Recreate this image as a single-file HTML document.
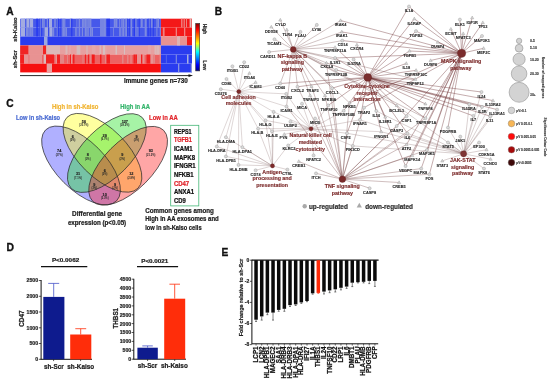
<!DOCTYPE html>
<html><head><meta charset="utf-8"><style>
html,body{margin:0;padding:0;background:#fff;width:550px;height:384px;overflow:hidden}
svg{display:block;font-family:"Liberation Sans",sans-serif;filter:blur(0.42px)}
</style></head><body>
<svg width="550" height="384" viewBox="0 0 550 384" font-family="Liberation Sans, sans-serif">
<rect width="550" height="384" fill="#fff"/>
<text x="6.3" y="14.6" font-size="10.2" font-weight="bold" fill="#111" stroke="#111" stroke-width="0.32">A</text>
<rect x="20.20" y="18.7" width="140.70" height="8.7" fill="#4658ea"/>
<rect x="20.20" y="27.4" width="140.70" height="9.0" fill="#4658ea"/>
<rect x="20.20" y="36.4" width="140.70" height="9.1" fill="#2a3cef"/>
<rect x="20.20" y="45.5" width="140.70" height="9.0" fill="#e6a0a0"/>
<rect x="20.20" y="54.5" width="140.70" height="9.1" fill="#ec6262"/>
<rect x="20.20" y="63.6" width="140.70" height="8.8" fill="#f60f0f"/>
<rect x="160.90" y="18.7" width="31.10" height="8.7" fill="#f41818"/>
<rect x="160.90" y="27.4" width="31.10" height="9.0" fill="#f41818"/>
<rect x="160.90" y="36.4" width="26.10" height="9.1" fill="#e89292"/>
<rect x="187.00" y="36.4" width="5.00" height="9.1" fill="#f41818"/>
<rect x="160.90" y="45.5" width="31.10" height="9.0" fill="#2a3cef"/>
<rect x="160.90" y="54.5" width="31.10" height="9.1" fill="#2a3cef"/>
<rect x="160.90" y="63.6" width="31.10" height="8.8" fill="#2a3cef"/>
<rect x="24.40" y="18.7" width="0.80" height="8.7" fill="#7d8ae0"/>
<rect x="26.00" y="18.7" width="1.00" height="8.7" fill="#7d8ae0"/>
<rect x="26.00" y="27.4" width="1.00" height="9.0" fill="#7d8ae0"/>
<rect x="27.00" y="27.4" width="1.60" height="9.0" fill="#7d8ae0"/>
<rect x="28.60" y="18.7" width="1.00" height="8.7" fill="#7d8ae0"/>
<rect x="28.60" y="27.4" width="1.00" height="9.0" fill="#7d8ae0"/>
<rect x="29.60" y="18.7" width="1.60" height="8.7" fill="#7d8ae0"/>
<rect x="29.60" y="27.4" width="1.60" height="9.0" fill="#7d8ae0"/>
<rect x="31.20" y="18.7" width="2.00" height="8.7" fill="#7d8ae0"/>
<rect x="31.20" y="27.4" width="2.00" height="9.0" fill="#7d8ae0"/>
<rect x="36.20" y="18.7" width="2.00" height="8.7" fill="#2a3cef"/>
<rect x="36.20" y="27.4" width="2.00" height="9.0" fill="#2a3cef"/>
<rect x="39.00" y="18.7" width="0.80" height="8.7" fill="#2a3cef"/>
<rect x="39.00" y="27.4" width="0.80" height="9.0" fill="#2a3cef"/>
<rect x="39.80" y="18.7" width="1.00" height="8.7" fill="#7d8ae0"/>
<rect x="39.80" y="27.4" width="1.00" height="9.0" fill="#7d8ae0"/>
<rect x="40.80" y="18.7" width="1.00" height="8.7" fill="#2a3cef"/>
<rect x="40.80" y="27.4" width="1.00" height="9.0" fill="#2a3cef"/>
<rect x="41.80" y="18.7" width="2.00" height="8.7" fill="#7d8ae0"/>
<rect x="43.80" y="18.7" width="1.00" height="8.7" fill="#7d8ae0"/>
<rect x="43.80" y="27.4" width="1.00" height="9.0" fill="#7d8ae0"/>
<rect x="46.80" y="18.7" width="1.30" height="8.7" fill="#7d8ae0"/>
<rect x="46.80" y="27.4" width="1.30" height="9.0" fill="#7d8ae0"/>
<rect x="48.10" y="18.7" width="0.80" height="8.7" fill="#2a3cef"/>
<rect x="48.10" y="27.4" width="0.80" height="9.0" fill="#2a3cef"/>
<rect x="48.90" y="18.7" width="2.00" height="8.7" fill="#7d8ae0"/>
<rect x="48.90" y="27.4" width="2.00" height="9.0" fill="#7d8ae0"/>
<rect x="50.90" y="27.4" width="2.00" height="9.0" fill="#7d8ae0"/>
<rect x="52.90" y="27.4" width="1.30" height="9.0" fill="#7d8ae0"/>
<rect x="54.20" y="18.7" width="1.60" height="8.7" fill="#7d8ae0"/>
<rect x="56.80" y="18.7" width="1.00" height="8.7" fill="#7d8ae0"/>
<rect x="56.80" y="27.4" width="1.00" height="9.0" fill="#7d8ae0"/>
<rect x="57.80" y="18.7" width="1.30" height="8.7" fill="#2a3cef"/>
<rect x="57.80" y="27.4" width="1.30" height="9.0" fill="#2a3cef"/>
<rect x="60.40" y="18.7" width="1.30" height="8.7" fill="#2a3cef"/>
<rect x="60.40" y="27.4" width="1.30" height="9.0" fill="#2a3cef"/>
<rect x="61.70" y="18.7" width="0.80" height="8.7" fill="#7d8ae0"/>
<rect x="61.70" y="27.4" width="0.80" height="9.0" fill="#7d8ae0"/>
<rect x="62.50" y="18.7" width="1.60" height="8.7" fill="#7d8ae0"/>
<rect x="62.50" y="27.4" width="1.60" height="9.0" fill="#7d8ae0"/>
<rect x="64.10" y="18.7" width="1.30" height="8.7" fill="#7d8ae0"/>
<rect x="64.10" y="27.4" width="1.30" height="9.0" fill="#7d8ae0"/>
<rect x="65.40" y="27.4" width="1.60" height="9.0" fill="#7d8ae0"/>
<rect x="69.80" y="18.7" width="1.30" height="8.7" fill="#7d8ae0"/>
<rect x="71.10" y="18.7" width="1.30" height="8.7" fill="#2a3cef"/>
<rect x="71.10" y="27.4" width="1.30" height="9.0" fill="#2a3cef"/>
<rect x="75.20" y="27.4" width="1.30" height="9.0" fill="#7d8ae0"/>
<rect x="76.50" y="18.7" width="0.80" height="8.7" fill="#7d8ae0"/>
<rect x="76.50" y="27.4" width="0.80" height="9.0" fill="#7d8ae0"/>
<rect x="78.60" y="18.7" width="1.60" height="8.7" fill="#7d8ae0"/>
<rect x="78.60" y="27.4" width="1.60" height="9.0" fill="#7d8ae0"/>
<rect x="81.80" y="18.7" width="1.30" height="8.7" fill="#7d8ae0"/>
<rect x="81.80" y="27.4" width="1.30" height="9.0" fill="#7d8ae0"/>
<rect x="83.10" y="18.7" width="1.60" height="8.7" fill="#7d8ae0"/>
<rect x="84.70" y="18.7" width="2.00" height="8.7" fill="#7d8ae0"/>
<rect x="84.70" y="27.4" width="2.00" height="9.0" fill="#7d8ae0"/>
<rect x="86.70" y="18.7" width="0.80" height="8.7" fill="#7d8ae0"/>
<rect x="86.70" y="27.4" width="0.80" height="9.0" fill="#7d8ae0"/>
<rect x="87.50" y="18.7" width="1.30" height="8.7" fill="#7d8ae0"/>
<rect x="87.50" y="27.4" width="1.30" height="9.0" fill="#7d8ae0"/>
<rect x="88.80" y="18.7" width="1.00" height="8.7" fill="#7d8ae0"/>
<rect x="89.80" y="18.7" width="1.60" height="8.7" fill="#7d8ae0"/>
<rect x="89.80" y="27.4" width="1.60" height="9.0" fill="#7d8ae0"/>
<rect x="91.40" y="27.4" width="1.60" height="9.0" fill="#7d8ae0"/>
<rect x="100.10" y="18.7" width="1.00" height="8.7" fill="#7d8ae0"/>
<rect x="100.10" y="27.4" width="1.00" height="9.0" fill="#7d8ae0"/>
<rect x="101.10" y="18.7" width="1.00" height="8.7" fill="#7d8ae0"/>
<rect x="101.10" y="27.4" width="1.00" height="9.0" fill="#7d8ae0"/>
<rect x="102.10" y="18.7" width="1.00" height="8.7" fill="#7d8ae0"/>
<rect x="102.10" y="27.4" width="1.00" height="9.0" fill="#7d8ae0"/>
<rect x="103.10" y="18.7" width="2.00" height="8.7" fill="#7d8ae0"/>
<rect x="103.10" y="27.4" width="2.00" height="9.0" fill="#7d8ae0"/>
<rect x="105.10" y="18.7" width="1.30" height="8.7" fill="#7d8ae0"/>
<rect x="105.10" y="27.4" width="1.30" height="9.0" fill="#7d8ae0"/>
<rect x="106.40" y="18.7" width="1.60" height="8.7" fill="#2a3cef"/>
<rect x="106.40" y="27.4" width="1.60" height="9.0" fill="#2a3cef"/>
<rect x="108.00" y="18.7" width="2.00" height="8.7" fill="#2a3cef"/>
<rect x="108.00" y="27.4" width="2.00" height="9.0" fill="#2a3cef"/>
<rect x="113.00" y="27.4" width="0.80" height="9.0" fill="#7d8ae0"/>
<rect x="113.80" y="18.7" width="2.00" height="8.7" fill="#7d8ae0"/>
<rect x="115.80" y="18.7" width="1.60" height="8.7" fill="#7d8ae0"/>
<rect x="119.00" y="18.7" width="0.80" height="8.7" fill="#7d8ae0"/>
<rect x="119.00" y="27.4" width="0.80" height="9.0" fill="#7d8ae0"/>
<rect x="119.80" y="27.4" width="1.00" height="9.0" fill="#7d8ae0"/>
<rect x="120.80" y="18.7" width="0.80" height="8.7" fill="#7d8ae0"/>
<rect x="121.60" y="18.7" width="0.80" height="8.7" fill="#7d8ae0"/>
<rect x="121.60" y="27.4" width="0.80" height="9.0" fill="#7d8ae0"/>
<rect x="122.40" y="18.7" width="2.00" height="8.7" fill="#7d8ae0"/>
<rect x="122.40" y="27.4" width="2.00" height="9.0" fill="#7d8ae0"/>
<rect x="125.20" y="18.7" width="2.00" height="8.7" fill="#7d8ae0"/>
<rect x="125.20" y="27.4" width="2.00" height="9.0" fill="#7d8ae0"/>
<rect x="127.20" y="18.7" width="1.00" height="8.7" fill="#2a3cef"/>
<rect x="127.20" y="27.4" width="1.00" height="9.0" fill="#2a3cef"/>
<rect x="129.20" y="18.7" width="1.30" height="8.7" fill="#2a3cef"/>
<rect x="129.20" y="27.4" width="1.30" height="9.0" fill="#2a3cef"/>
<rect x="130.50" y="18.7" width="1.60" height="8.7" fill="#7d8ae0"/>
<rect x="130.50" y="27.4" width="1.60" height="9.0" fill="#7d8ae0"/>
<rect x="133.70" y="18.7" width="1.60" height="8.7" fill="#2a3cef"/>
<rect x="133.70" y="27.4" width="1.60" height="9.0" fill="#2a3cef"/>
<rect x="135.30" y="18.7" width="1.30" height="8.7" fill="#7d8ae0"/>
<rect x="135.30" y="27.4" width="1.30" height="9.0" fill="#7d8ae0"/>
<rect x="137.40" y="27.4" width="1.30" height="9.0" fill="#7d8ae0"/>
<rect x="138.70" y="18.7" width="1.00" height="8.7" fill="#2a3cef"/>
<rect x="138.70" y="27.4" width="1.00" height="9.0" fill="#2a3cef"/>
<rect x="140.70" y="18.7" width="2.00" height="8.7" fill="#7d8ae0"/>
<rect x="144.70" y="18.7" width="2.00" height="8.7" fill="#7d8ae0"/>
<rect x="144.70" y="27.4" width="2.00" height="9.0" fill="#7d8ae0"/>
<rect x="147.50" y="18.7" width="1.30" height="8.7" fill="#2a3cef"/>
<rect x="147.50" y="27.4" width="1.30" height="9.0" fill="#2a3cef"/>
<rect x="148.80" y="18.7" width="1.00" height="8.7" fill="#7d8ae0"/>
<rect x="149.80" y="18.7" width="1.00" height="8.7" fill="#2a3cef"/>
<rect x="149.80" y="27.4" width="1.00" height="9.0" fill="#2a3cef"/>
<rect x="150.80" y="18.7" width="2.00" height="8.7" fill="#7d8ae0"/>
<rect x="152.80" y="18.7" width="1.00" height="8.7" fill="#2a3cef"/>
<rect x="152.80" y="27.4" width="1.00" height="9.0" fill="#2a3cef"/>
<rect x="156.40" y="18.7" width="1.00" height="8.7" fill="#7d8ae0"/>
<rect x="156.40" y="27.4" width="1.00" height="9.0" fill="#7d8ae0"/>
<rect x="157.40" y="18.7" width="1.60" height="8.7" fill="#7d8ae0"/>
<rect x="159.80" y="27.4" width="1.10" height="9.0" fill="#7d8ae0"/>
<rect x="21.00" y="18.7" width="4.00" height="8.7" fill="#a3abe0"/>
<rect x="27.00" y="18.7" width="2.00" height="8.7" fill="#a3abe0"/>
<rect x="30.00" y="18.7" width="3.00" height="8.7" fill="#a3abe0"/>
<rect x="49.00" y="18.7" width="3.00" height="8.7" fill="#a3abe0"/>
<rect x="21.00" y="27.4" width="4.00" height="9.0" fill="#a3abe0"/>
<rect x="45.00" y="27.4" width="3.00" height="9.0" fill="#a3abe0"/>
<rect x="50.00" y="27.4" width="2.00" height="9.0" fill="#a3abe0"/>
<rect x="44.00" y="36.4" width="3.50" height="9.1" fill="#9ca8e0"/>
<rect x="20.20" y="45.5" width="8.40" height="9.0" fill="#f02424"/>
<rect x="28.60" y="45.5" width="14.40" height="9.0" fill="#e89292"/>
<rect x="43.00" y="45.5" width="3.00" height="9.0" fill="#f02424"/>
<rect x="46.70" y="45.5" width="13.30" height="9.0" fill="#dcb8b8"/>
<rect x="65.50" y="45.5" width="2.00" height="9.0" fill="#dcb8b8"/>
<rect x="69.00" y="45.5" width="2.00" height="9.0" fill="#e4a8a8"/>
<rect x="79.00" y="45.5" width="2.00" height="9.0" fill="#e4a8a8"/>
<rect x="86.50" y="45.5" width="1.00" height="9.0" fill="#d6c0c0"/>
<rect x="92.00" y="45.5" width="2.00" height="9.0" fill="#e4a8a8"/>
<rect x="94.00" y="45.5" width="1.50" height="9.0" fill="#e4a8a8"/>
<rect x="99.50" y="45.5" width="1.50" height="9.0" fill="#dcb8b8"/>
<rect x="103.00" y="45.5" width="2.00" height="9.0" fill="#d6c0c0"/>
<rect x="105.00" y="45.5" width="1.50" height="9.0" fill="#e4a8a8"/>
<rect x="115.50" y="45.5" width="1.50" height="9.0" fill="#d6c0c0"/>
<rect x="124.00" y="45.5" width="1.00" height="9.0" fill="#d6c0c0"/>
<rect x="148.00" y="45.5" width="3.00" height="9.0" fill="#e4a8a8"/>
<rect x="154.50" y="45.5" width="2.00" height="9.0" fill="#dcb8b8"/>
<rect x="156.50" y="45.5" width="3.00" height="9.0" fill="#dcb8b8"/>
<rect x="76.60" y="45.5" width="3.40" height="9.0" fill="#d4bcbc"/>
<rect x="20.20" y="54.5" width="3.80" height="9.1" fill="#f22020"/>
<rect x="24.00" y="54.5" width="4.60" height="9.1" fill="#e89292"/>
<rect x="29.30" y="54.5" width="12.70" height="9.1" fill="#e89292"/>
<rect x="43.70" y="54.5" width="2.30" height="9.1" fill="#dcb8b8"/>
<rect x="46.00" y="54.5" width="8.00" height="9.1" fill="#f22020"/>
<rect x="55.50" y="54.5" width="1.50" height="9.1" fill="#e89292"/>
<rect x="57.00" y="54.5" width="3.00" height="9.1" fill="#f22020"/>
<rect x="60.00" y="54.5" width="2.00" height="9.1" fill="#e48484"/>
<rect x="62.00" y="54.5" width="2.00" height="9.1" fill="#e48484"/>
<rect x="67.00" y="54.5" width="1.00" height="9.1" fill="#e48484"/>
<rect x="70.00" y="54.5" width="1.00" height="9.1" fill="#f22020"/>
<rect x="71.00" y="54.5" width="1.00" height="9.1" fill="#e89292"/>
<rect x="73.00" y="54.5" width="1.50" height="9.1" fill="#f22020"/>
<rect x="82.50" y="54.5" width="1.00" height="9.1" fill="#e48484"/>
<rect x="85.00" y="54.5" width="1.00" height="9.1" fill="#f22020"/>
<rect x="88.00" y="54.5" width="1.50" height="9.1" fill="#f22020"/>
<rect x="89.50" y="54.5" width="3.00" height="9.1" fill="#e48484"/>
<rect x="100.00" y="54.5" width="1.50" height="9.1" fill="#f22020"/>
<rect x="105.00" y="54.5" width="1.50" height="9.1" fill="#e48484"/>
<rect x="106.50" y="54.5" width="1.50" height="9.1" fill="#f22020"/>
<rect x="108.00" y="54.5" width="2.00" height="9.1" fill="#f22020"/>
<rect x="122.00" y="54.5" width="1.50" height="9.1" fill="#e48484"/>
<rect x="127.00" y="54.5" width="1.50" height="9.1" fill="#e48484"/>
<rect x="130.50" y="54.5" width="1.00" height="9.1" fill="#e89292"/>
<rect x="133.50" y="54.5" width="2.00" height="9.1" fill="#f22020"/>
<rect x="135.50" y="54.5" width="1.50" height="9.1" fill="#f22020"/>
<rect x="137.00" y="54.5" width="2.00" height="9.1" fill="#e89292"/>
<rect x="139.00" y="54.5" width="2.00" height="9.1" fill="#e89292"/>
<rect x="141.00" y="54.5" width="1.50" height="9.1" fill="#f22020"/>
<rect x="142.50" y="54.5" width="2.00" height="9.1" fill="#e89292"/>
<rect x="146.50" y="54.5" width="1.50" height="9.1" fill="#f22020"/>
<rect x="148.00" y="54.5" width="1.00" height="9.1" fill="#f22020"/>
<rect x="149.00" y="54.5" width="1.50" height="9.1" fill="#f22020"/>
<rect x="150.50" y="54.5" width="3.00" height="9.1" fill="#e89292"/>
<rect x="153.50" y="54.5" width="1.50" height="9.1" fill="#e48484"/>
<rect x="159.50" y="54.5" width="1.40" height="9.1" fill="#e48484"/>
<rect x="91.70" y="54.5" width="3.00" height="9.1" fill="#f41a1a"/>
<rect x="46.70" y="63.6" width="5.30" height="8.8" fill="#e8a0a0"/>
<rect x="181.00" y="18.7" width="1.50" height="8.7" fill="#ee7a7a"/>
<rect x="183.50" y="18.7" width="1.50" height="8.7" fill="#ec7070"/>
<rect x="186.00" y="18.7" width="1.00" height="8.7" fill="#ee8080"/>
<rect x="189.60" y="18.7" width="1.90" height="8.7" fill="#e0b8b8"/>
<rect x="162.80" y="27.4" width="1.80" height="9.0" fill="#f08080"/>
<rect x="175.70" y="27.4" width="1.30" height="9.0" fill="#f08080"/>
<rect x="184.00" y="27.4" width="1.30" height="9.0" fill="#f08080"/>
<rect x="177.00" y="36.4" width="3.00" height="9.1" fill="#dcb4b4"/>
<rect x="165.90" y="54.5" width="0.70" height="9.1" fill="#6676e4"/>
<rect x="175.70" y="54.5" width="1.30" height="9.1" fill="#7482e2"/>
<rect x="187.00" y="54.5" width="1.50" height="9.1" fill="#a8b0e0"/>
<rect x="178.00" y="63.6" width="1.30" height="8.8" fill="#8a96e0"/>
<rect x="190.80" y="63.6" width="1.20" height="8.8" fill="#8a96e0"/>
<text transform="translate(17.4,29.6) rotate(-90)" font-size="5.8" font-weight="bold" fill="#222" text-anchor="middle" stroke="#222" stroke-width="0.20">sh-Kaiso</text>
<text transform="translate(17.4,59.2) rotate(-90)" font-size="5.8" font-weight="bold" fill="#222" text-anchor="middle" stroke="#222" stroke-width="0.20">sh-Scr</text>
<line x1="20" y1="75.6" x2="190" y2="75.6" stroke="#111" stroke-width="0.9"/>
<path d="M188.5,74.3 L193,75.6 L188.5,76.9 Z" fill="#111"/>
<text x="187.8" y="83.3" font-size="6.3" font-weight="bold" fill="#222" text-anchor="end" stroke="#222" stroke-width="0.22">Immune genes n=730</text>
<defs><linearGradient id="jet" x1="0" y1="0" x2="0" y2="1"><stop offset="0" stop-color="#800000"/><stop offset="0.13" stop-color="#ff0000"/><stop offset="0.42" stop-color="#ffff00"/><stop offset="0.6" stop-color="#00ffff"/><stop offset="0.87" stop-color="#0000ff"/><stop offset="1" stop-color="#000080"/></linearGradient></defs>
<rect x="195.7" y="23.4" width="4.0" height="47.5" fill="url(#jet)" stroke="#333" stroke-width="0.6"/>
<text transform="translate(202.5,29.0) rotate(90)" font-size="4.6" font-weight="bold" fill="#222" text-anchor="middle" stroke="#222" stroke-width="0.16">High</text>
<text transform="translate(202.5,65.4) rotate(90)" font-size="4.8" font-weight="bold" fill="#222" text-anchor="middle" stroke="#222" stroke-width="0.17">Low</text>
<text x="214.8" y="14.6" font-size="10.2" font-weight="bold" fill="#111" stroke="#111" stroke-width="0.32">B</text>
<g stroke="#66282a" stroke-width="0.55" stroke-opacity="0.7" fill="none">
<line x1="335.1" y1="47.4" x2="367.8" y2="77.4"/>
<line x1="356.9" y1="44.9" x2="367.8" y2="77.4"/>
<line x1="335.1" y1="58.0" x2="367.8" y2="77.4"/>
<line x1="326.4" y1="62.9" x2="367.8" y2="77.4"/>
<line x1="353.6" y1="59.4" x2="367.8" y2="77.4"/>
<line x1="336.2" y1="70.0" x2="367.8" y2="77.4"/>
<line x1="409.0" y1="6.5" x2="367.8" y2="77.4"/>
<line x1="414.3" y1="18.8" x2="367.8" y2="77.4"/>
<line x1="416.0" y1="31.1" x2="367.8" y2="77.4"/>
<line x1="409.5" y1="51.0" x2="367.8" y2="77.4"/>
<line x1="406.3" y1="63.4" x2="367.8" y2="77.4"/>
<line x1="416.1" y1="70.3" x2="367.8" y2="77.4"/>
<line x1="415.3" y1="79.3" x2="367.8" y2="77.4"/>
<line x1="481.5" y1="92.0" x2="367.8" y2="77.4"/>
<line x1="280.2" y1="83.5" x2="367.8" y2="77.4"/>
<line x1="297.5" y1="86.8" x2="367.8" y2="77.4"/>
<line x1="332.2" y1="88.2" x2="367.8" y2="77.4"/>
<line x1="328.2" y1="105.4" x2="367.8" y2="77.4"/>
<line x1="343.7" y1="110.8" x2="367.8" y2="77.4"/>
<line x1="376.3" y1="111.0" x2="367.8" y2="77.4"/>
<line x1="385.3" y1="117.0" x2="367.8" y2="77.4"/>
<line x1="360.0" y1="119.8" x2="367.8" y2="77.4"/>
<line x1="347.0" y1="133.3" x2="367.8" y2="77.4"/>
<line x1="406.6" y1="116.2" x2="367.8" y2="77.4"/>
<line x1="425.4" y1="103.9" x2="367.8" y2="77.4"/>
<line x1="425.4" y1="118.2" x2="367.8" y2="77.4"/>
<line x1="407.4" y1="133.4" x2="367.8" y2="77.4"/>
<line x1="381.2" y1="131.7" x2="367.8" y2="77.4"/>
<line x1="405.6" y1="166.1" x2="367.8" y2="77.4"/>
<line x1="469.3" y1="104.4" x2="367.8" y2="77.4"/>
<line x1="493.0" y1="100.6" x2="367.8" y2="77.4"/>
<line x1="482.0" y1="106.9" x2="367.8" y2="77.4"/>
<line x1="497.1" y1="109.6" x2="367.8" y2="77.4"/>
<line x1="473.4" y1="115.9" x2="367.8" y2="77.4"/>
<line x1="490.2" y1="116.2" x2="367.8" y2="77.4"/>
</g>
<g stroke="#66282a" stroke-width="0.55" stroke-opacity="0.7" fill="none">
<line x1="340.6" y1="20.5" x2="461.6" y2="53.3"/>
<line x1="341.8" y1="31.9" x2="461.6" y2="53.3"/>
<line x1="342.3" y1="40.6" x2="461.6" y2="53.3"/>
<line x1="335.1" y1="58.0" x2="461.6" y2="53.3"/>
<line x1="409.0" y1="6.5" x2="461.6" y2="53.3"/>
<line x1="414.3" y1="18.8" x2="461.6" y2="53.3"/>
<line x1="416.0" y1="31.1" x2="461.6" y2="53.3"/>
<line x1="409.5" y1="51.0" x2="461.6" y2="53.3"/>
<line x1="459.9" y1="19.6" x2="461.6" y2="53.3"/>
<line x1="472.2" y1="17.7" x2="461.6" y2="53.3"/>
<line x1="482.8" y1="22.6" x2="461.6" y2="53.3"/>
<line x1="450.9" y1="29.1" x2="461.6" y2="53.3"/>
<line x1="463.2" y1="33.6" x2="461.6" y2="53.3"/>
<line x1="482.0" y1="36.0" x2="461.6" y2="53.3"/>
<line x1="437.8" y1="42.2" x2="461.6" y2="53.3"/>
<line x1="483.6" y1="48.3" x2="461.6" y2="53.3"/>
<line x1="430.6" y1="60.5" x2="461.6" y2="53.3"/>
<line x1="349.5" y1="102.9" x2="461.6" y2="53.3"/>
<line x1="364.0" y1="107.7" x2="461.6" y2="53.3"/>
<line x1="425.4" y1="118.2" x2="461.6" y2="53.3"/>
<line x1="396.7" y1="126.0" x2="461.6" y2="53.3"/>
<line x1="406.5" y1="144.5" x2="461.6" y2="53.3"/>
<line x1="426.9" y1="150.0" x2="461.6" y2="53.3"/>
<line x1="412.2" y1="155.5" x2="461.6" y2="53.3"/>
<line x1="405.6" y1="166.1" x2="461.6" y2="53.3"/>
<line x1="421.2" y1="168.6" x2="461.6" y2="53.3"/>
<line x1="429.4" y1="174.3" x2="461.6" y2="53.3"/>
<line x1="448.0" y1="127.6" x2="461.6" y2="53.3"/>
</g>
<g stroke="#6a3434" stroke-width="0.5" stroke-opacity="0.64" fill="none">
<line x1="326.4" y1="62.9" x2="342.4" y2="179.2"/>
<line x1="297.5" y1="86.8" x2="342.4" y2="179.2"/>
<line x1="311.5" y1="86.3" x2="342.4" y2="179.2"/>
<line x1="332.2" y1="88.2" x2="342.4" y2="179.2"/>
<line x1="310.2" y1="95.5" x2="342.4" y2="179.2"/>
<line x1="325.0" y1="95.5" x2="342.4" y2="179.2"/>
<line x1="286.5" y1="106.6" x2="342.4" y2="179.2"/>
<line x1="349.5" y1="102.9" x2="342.4" y2="179.2"/>
<line x1="364.0" y1="107.7" x2="342.4" y2="179.2"/>
<line x1="347.0" y1="133.3" x2="342.4" y2="179.2"/>
<line x1="352.8" y1="145.9" x2="342.4" y2="179.2"/>
<line x1="298.8" y1="161.4" x2="342.4" y2="179.2"/>
<line x1="316.0" y1="173.4" x2="342.4" y2="179.2"/>
<line x1="406.6" y1="116.2" x2="342.4" y2="179.2"/>
<line x1="425.4" y1="118.2" x2="342.4" y2="179.2"/>
<line x1="396.7" y1="126.0" x2="342.4" y2="179.2"/>
<line x1="407.4" y1="133.4" x2="342.4" y2="179.2"/>
<line x1="406.5" y1="144.5" x2="342.4" y2="179.2"/>
<line x1="426.9" y1="150.0" x2="342.4" y2="179.2"/>
<line x1="412.2" y1="155.5" x2="342.4" y2="179.2"/>
<line x1="421.2" y1="168.6" x2="342.4" y2="179.2"/>
<line x1="429.4" y1="174.3" x2="342.4" y2="179.2"/>
<line x1="399.1" y1="182.5" x2="342.4" y2="179.2"/>
<line x1="369.6" y1="188.2" x2="342.4" y2="179.2"/>
</g>
<g stroke="#6c3c3c" stroke-width="0.5" stroke-opacity="0.62" fill="none">
<line x1="280.3" y1="20.0" x2="293.2" y2="49.4"/>
<line x1="271.3" y1="27.0" x2="293.2" y2="49.4"/>
<line x1="286.8" y1="29.8" x2="293.2" y2="49.4"/>
<line x1="300.4" y1="31.9" x2="293.2" y2="49.4"/>
<line x1="316.8" y1="24.9" x2="293.2" y2="49.4"/>
<line x1="274.5" y1="39.3" x2="293.2" y2="49.4"/>
<line x1="269.1" y1="52.0" x2="293.2" y2="49.4"/>
<line x1="340.6" y1="20.5" x2="293.2" y2="49.4"/>
<line x1="341.8" y1="31.9" x2="293.2" y2="49.4"/>
<line x1="342.3" y1="40.6" x2="293.2" y2="49.4"/>
<line x1="335.1" y1="47.4" x2="293.2" y2="49.4"/>
<line x1="335.1" y1="58.0" x2="293.2" y2="49.4"/>
<line x1="326.4" y1="62.9" x2="293.2" y2="49.4"/>
<line x1="336.2" y1="70.0" x2="293.2" y2="49.4"/>
<line x1="415.3" y1="79.3" x2="293.2" y2="49.4"/>
<line x1="280.2" y1="83.5" x2="293.2" y2="49.4"/>
<line x1="297.5" y1="86.8" x2="293.2" y2="49.4"/>
<line x1="311.5" y1="86.3" x2="293.2" y2="49.4"/>
<line x1="332.2" y1="88.2" x2="293.2" y2="49.4"/>
<line x1="310.2" y1="95.5" x2="293.2" y2="49.4"/>
<line x1="325.0" y1="95.5" x2="293.2" y2="49.4"/>
<line x1="286.5" y1="106.6" x2="293.2" y2="49.4"/>
<line x1="349.5" y1="102.9" x2="293.2" y2="49.4"/>
<line x1="396.7" y1="105.5" x2="293.2" y2="49.4"/>
<line x1="425.4" y1="118.2" x2="293.2" y2="49.4"/>
</g>
<g stroke="#765454" stroke-width="0.47" stroke-opacity="0.58" fill="none">
<line x1="481.5" y1="92.0" x2="463.6" y2="153.8"/>
<line x1="376.3" y1="111.0" x2="463.6" y2="153.8"/>
<line x1="360.0" y1="119.8" x2="463.6" y2="153.8"/>
<line x1="347.0" y1="133.3" x2="463.6" y2="153.8"/>
<line x1="352.8" y1="145.9" x2="463.6" y2="153.8"/>
<line x1="396.7" y1="105.5" x2="463.6" y2="153.8"/>
<line x1="407.4" y1="133.4" x2="463.6" y2="153.8"/>
<line x1="381.2" y1="131.7" x2="463.6" y2="153.8"/>
<line x1="469.3" y1="104.4" x2="463.6" y2="153.8"/>
<line x1="493.0" y1="100.6" x2="463.6" y2="153.8"/>
<line x1="482.0" y1="106.9" x2="463.6" y2="153.8"/>
<line x1="497.1" y1="109.6" x2="463.6" y2="153.8"/>
<line x1="473.4" y1="115.9" x2="463.6" y2="153.8"/>
<line x1="490.2" y1="116.2" x2="463.6" y2="153.8"/>
<line x1="448.0" y1="127.6" x2="463.6" y2="153.8"/>
<line x1="460.3" y1="136.6" x2="463.6" y2="153.8"/>
<line x1="448.0" y1="142.5" x2="463.6" y2="153.8"/>
<line x1="479.1" y1="142.5" x2="463.6" y2="153.8"/>
<line x1="486.5" y1="149.7" x2="463.6" y2="153.8"/>
<line x1="490.6" y1="159.2" x2="463.6" y2="153.8"/>
<line x1="442.3" y1="160.9" x2="463.6" y2="153.8"/>
<line x1="484.0" y1="168.6" x2="463.6" y2="153.8"/>
</g>
<g stroke="#765454" stroke-width="0.45" stroke-opacity="0.56" fill="none">
<line x1="286.3" y1="93.9" x2="311.0" y2="128.8"/>
<line x1="302.0" y1="103.7" x2="311.0" y2="128.8"/>
<line x1="286.5" y1="106.6" x2="311.0" y2="128.8"/>
<line x1="328.2" y1="105.4" x2="311.0" y2="128.8"/>
<line x1="343.7" y1="110.8" x2="311.0" y2="128.8"/>
<line x1="360.0" y1="119.8" x2="311.0" y2="128.8"/>
<line x1="290.5" y1="121.7" x2="311.0" y2="128.8"/>
<line x1="315.1" y1="118.5" x2="311.0" y2="128.8"/>
<line x1="273.6" y1="111.9" x2="311.0" y2="128.8"/>
<line x1="265.5" y1="120.4" x2="311.0" y2="128.8"/>
<line x1="258.1" y1="128.6" x2="311.0" y2="128.8"/>
<line x1="272.0" y1="131.3" x2="311.0" y2="128.8"/>
<line x1="284.3" y1="134.3" x2="311.0" y2="128.8"/>
<line x1="288.2" y1="145.5" x2="311.0" y2="128.8"/>
<line x1="347.0" y1="133.3" x2="311.0" y2="128.8"/>
<line x1="352.8" y1="145.9" x2="311.0" y2="128.8"/>
<line x1="313.6" y1="155.4" x2="311.0" y2="128.8"/>
<line x1="381.2" y1="131.7" x2="311.0" y2="128.8"/>
</g>
<g stroke="#765454" stroke-width="0.45" stroke-opacity="0.56" fill="none">
<line x1="273.6" y1="111.9" x2="272.5" y2="165.9"/>
<line x1="265.5" y1="120.4" x2="272.5" y2="165.9"/>
<line x1="258.1" y1="128.6" x2="272.5" y2="165.9"/>
<line x1="272.0" y1="131.3" x2="272.5" y2="165.9"/>
<line x1="225.9" y1="137.2" x2="272.5" y2="165.9"/>
<line x1="216.8" y1="146.5" x2="272.5" y2="165.9"/>
<line x1="242.4" y1="147.2" x2="272.5" y2="165.9"/>
<line x1="225.9" y1="156.4" x2="272.5" y2="165.9"/>
<line x1="238.5" y1="164.9" x2="272.5" y2="165.9"/>
<line x1="255.6" y1="170.3" x2="272.5" y2="165.9"/>
<line x1="287.4" y1="169.6" x2="272.5" y2="165.9"/>
<line x1="288.2" y1="145.5" x2="272.5" y2="165.9"/>
</g>
<g stroke="#7a5c5c" stroke-width="0.45" stroke-opacity="0.55" fill="none">
<line x1="244.2" y1="62.2" x2="238.8" y2="91.6"/>
<line x1="232.4" y1="66.3" x2="238.8" y2="91.6"/>
<line x1="249.4" y1="73.2" x2="238.8" y2="91.6"/>
<line x1="226.5" y1="79.0" x2="238.8" y2="91.6"/>
<line x1="255.6" y1="82.3" x2="238.8" y2="91.6"/>
<line x1="220.8" y1="89.2" x2="238.8" y2="91.6"/>
<line x1="280.2" y1="83.5" x2="238.8" y2="91.6"/>
<line x1="286.3" y1="93.9" x2="238.8" y2="91.6"/>
<line x1="286.5" y1="106.6" x2="238.8" y2="91.6"/>
<line x1="273.6" y1="111.9" x2="238.8" y2="91.6"/>
<line x1="265.5" y1="120.4" x2="238.8" y2="91.6"/>
<line x1="258.1" y1="128.6" x2="238.8" y2="91.6"/>
<line x1="272.0" y1="131.3" x2="238.8" y2="91.6"/>
<line x1="225.9" y1="137.2" x2="238.8" y2="91.6"/>
<line x1="216.8" y1="146.5" x2="238.8" y2="91.6"/>
<line x1="242.4" y1="147.2" x2="238.8" y2="91.6"/>
<line x1="225.9" y1="156.4" x2="238.8" y2="91.6"/>
<line x1="238.5" y1="164.9" x2="238.8" y2="91.6"/>
</g>
<g fill="#d9d9d9" stroke="#8a8a8a" stroke-width="0.35">
<path d="M280.3,18.3 L281.9,21.1 L278.7,21.1 Z"/>
<path d="M271.3,25.3 L272.9,28.1 L269.7,28.1 Z"/>
<path d="M286.8,28.1 L288.4,30.9 L285.2,30.9 Z"/>
<circle cx="300.4" cy="31.9" r="1.55"/>
<circle cx="316.8" cy="24.9" r="1.55"/>
<circle cx="274.5" cy="39.3" r="1.55"/>
<circle cx="269.1" cy="52.0" r="1.55"/>
<path d="M340.6,18.8 L342.2,21.6 L339.0,21.6 Z"/>
<path d="M341.8,30.2 L343.4,33.0 L340.2,33.0 Z"/>
<circle cx="342.3" cy="40.6" r="1.55"/>
<path d="M335.1,45.7 L336.7,48.5 L333.5,48.5 Z"/>
<path d="M356.9,43.2 L358.5,46.0 L355.3,46.0 Z"/>
<circle cx="335.1" cy="58.0" r="1.55"/>
<path d="M326.4,61.2 L328.0,64.0 L324.8,64.0 Z"/>
<circle cx="353.6" cy="59.4" r="1.55"/>
<circle cx="336.2" cy="70.0" r="1.55"/>
<circle cx="409.0" cy="6.5" r="1.55"/>
<path d="M414.3,17.1 L415.9,19.9 L412.7,19.9 Z"/>
<circle cx="416.0" cy="31.1" r="1.55"/>
<path d="M409.5,49.3 L411.1,52.1 L407.9,52.1 Z"/>
<circle cx="459.9" cy="19.6" r="1.55"/>
<path d="M472.2,16.0 L473.8,18.8 L470.6,18.8 Z"/>
<path d="M482.8,20.9 L484.4,23.7 L481.2,23.7 Z"/>
<path d="M450.9,27.4 L452.5,30.2 L449.3,30.2 Z"/>
<path d="M463.2,31.9 L464.8,34.7 L461.6,34.7 Z"/>
<circle cx="482.0" cy="36.0" r="1.55"/>
<path d="M437.8,40.5 L439.4,43.3 L436.2,43.3 Z"/>
<path d="M483.6,46.6 L485.2,49.4 L482.0,49.4 Z"/>
<path d="M430.6,58.8 L432.2,61.6 L429.0,61.6 Z"/>
<path d="M406.3,61.7 L407.9,64.5 L404.7,64.5 Z"/>
<path d="M416.1,68.6 L417.7,71.4 L414.5,71.4 Z"/>
<path d="M415.3,77.6 L416.9,80.4 L413.7,80.4 Z"/>
<circle cx="481.5" cy="92.0" r="1.55"/>
<circle cx="244.2" cy="62.2" r="1.55"/>
<circle cx="232.4" cy="66.3" r="1.55"/>
<path d="M249.4,71.5 L251.0,74.3 L247.8,74.3 Z"/>
<circle cx="226.5" cy="79.0" r="1.55"/>
<path d="M255.6,80.6 L257.2,83.4 L254.0,83.4 Z"/>
<circle cx="220.8" cy="89.2" r="1.55"/>
<circle cx="280.2" cy="83.5" r="1.55"/>
<circle cx="286.3" cy="93.9" r="1.55"/>
<circle cx="297.5" cy="86.8" r="1.55"/>
<path d="M311.5,84.6 L313.1,87.4 L309.9,87.4 Z"/>
<circle cx="332.2" cy="88.2" r="1.55"/>
<path d="M310.2,93.8 L311.8,96.6 L308.6,96.6 Z"/>
<path d="M325.0,93.8 L326.6,96.6 L323.4,96.6 Z"/>
<circle cx="302.0" cy="103.7" r="1.55"/>
<circle cx="286.5" cy="106.6" r="1.55"/>
<circle cx="328.2" cy="105.4" r="1.55"/>
<path d="M349.5,101.2 L351.1,104.0 L347.9,104.0 Z"/>
<circle cx="343.7" cy="110.8" r="1.55"/>
<circle cx="364.0" cy="107.7" r="1.55"/>
<circle cx="376.3" cy="111.0" r="1.55"/>
<path d="M385.3,115.3 L386.9,118.1 L383.7,118.1 Z"/>
<circle cx="360.0" cy="119.8" r="1.55"/>
<circle cx="290.5" cy="121.7" r="1.55"/>
<circle cx="315.1" cy="118.5" r="1.55"/>
<circle cx="273.6" cy="111.9" r="1.55"/>
<circle cx="265.5" cy="120.4" r="1.55"/>
<circle cx="258.1" cy="128.6" r="1.55"/>
<circle cx="272.0" cy="131.3" r="1.55"/>
<path d="M284.3,132.6 L285.9,135.4 L282.7,135.4 Z"/>
<circle cx="225.9" cy="137.2" r="1.55"/>
<circle cx="216.8" cy="146.5" r="1.55"/>
<circle cx="242.4" cy="147.2" r="1.55"/>
<circle cx="225.9" cy="156.4" r="1.55"/>
<circle cx="238.5" cy="164.9" r="1.55"/>
<circle cx="255.6" cy="170.3" r="1.55"/>
<circle cx="287.4" cy="169.6" r="1.55"/>
<circle cx="288.2" cy="145.5" r="1.55"/>
<circle cx="347.0" cy="133.3" r="1.55"/>
<circle cx="352.8" cy="145.9" r="1.55"/>
<circle cx="313.6" cy="155.4" r="1.55"/>
<path d="M298.8,159.7 L300.4,162.5 L297.2,162.5 Z"/>
<circle cx="316.0" cy="173.4" r="1.55"/>
<path d="M396.7,103.8 L398.3,106.6 L395.1,106.6 Z"/>
<circle cx="406.6" cy="116.2" r="1.55"/>
<path d="M425.4,102.2 L427.0,105.0 L423.8,105.0 Z"/>
<circle cx="425.4" cy="118.2" r="1.55"/>
<circle cx="396.7" cy="126.0" r="1.55"/>
<circle cx="407.4" cy="133.4" r="1.55"/>
<path d="M381.2,130.0 L382.8,132.8 L379.6,132.8 Z"/>
<path d="M406.5,142.8 L408.1,145.6 L404.9,145.6 Z"/>
<circle cx="426.9" cy="150.0" r="1.55"/>
<path d="M412.2,153.8 L413.8,156.6 L410.6,156.6 Z"/>
<circle cx="405.6" cy="166.1" r="1.55"/>
<circle cx="421.2" cy="168.6" r="1.55"/>
<circle cx="429.4" cy="174.3" r="1.55"/>
<path d="M399.1,180.8 L400.7,183.6 L397.5,183.6 Z"/>
<circle cx="369.6" cy="188.2" r="1.55"/>
<circle cx="469.3" cy="104.4" r="1.55"/>
<path d="M493.0,98.9 L494.6,101.7 L491.4,101.7 Z"/>
<circle cx="482.0" cy="106.9" r="1.55"/>
<circle cx="497.1" cy="109.6" r="1.55"/>
<circle cx="473.4" cy="115.9" r="1.55"/>
<circle cx="490.2" cy="116.2" r="1.55"/>
<circle cx="448.0" cy="127.6" r="1.55"/>
<circle cx="460.3" cy="136.6" r="1.55"/>
<circle cx="448.0" cy="142.5" r="1.55"/>
<circle cx="479.1" cy="142.5" r="1.55"/>
<path d="M486.5,148.0 L488.1,150.8 L484.9,150.8 Z"/>
<path d="M490.6,157.5 L492.2,160.3 L489.0,160.3 Z"/>
<path d="M442.3,159.2 L443.9,162.0 L440.7,162.0 Z"/>
<circle cx="484.0" cy="168.6" r="1.55"/>
</g>
<g font-size="3.9" font-weight="bold" fill="#262626" stroke="#262626" stroke-width="0.1" text-anchor="middle">
<text x="280.6" y="25.6">CYLD</text>
<text x="271.3" y="32.8">DDX58</text>
<text x="287.3" y="35.8">TLR4</text>
<text x="300.4" y="37.4">PLAU</text>
<text x="316.8" y="30.5">LY96</text>
<text x="274.2" y="45.1">TICAM1</text>
<text x="268.0" y="57.9">CARD11</text>
<text x="340.6" y="26.3">IRAK4</text>
<text x="341.8" y="37.4">IRAK1</text>
<text x="342.7" y="46.0">CD14</text>
<text x="335.1" y="52.3">TNFRSF11A</text>
<text x="356.9" y="50.3">CXCR4</text>
<text x="335.1" y="63.8">IL1R1</text>
<text x="326.9" y="67.6">CXCL8</text>
<text x="354.2" y="64.8">IL17RA</text>
<text x="336.2" y="75.8">TNFRSF13B</text>
<text x="409.0" y="12.4">IL1A</text>
<text x="414.3" y="24.6">IL1RAP</text>
<text x="416.0" y="36.6">TGFB2</text>
<text x="409.8" y="56.6">TGFB1</text>
<text x="459.9" y="25.5">ELK1</text>
<text x="472.2" y="23.5">IGF1R</text>
<text x="482.8" y="27.9">TP53</text>
<text x="450.9" y="35.0">ECSIT</text>
<text x="463.2" y="39.0">NFATC3</text>
<text x="482.0" y="41.5">MAP3K1</text>
<text x="437.8" y="48.0">DUSP4</text>
<text x="483.6" y="54.1">MEF2C</text>
<text x="430.6" y="65.9">DUSP6</text>
<text x="406.3" y="69.2">IL18</text>
<text x="416.1" y="76.1">TNFRSF10C</text>
<text x="415.3" y="84.8">TNFSF13</text>
<text x="481.5" y="97.7">IL24</text>
<text x="244.2" y="68.0">CD22</text>
<text x="232.4" y="72.3">ITGB1</text>
<text x="249.4" y="78.8">ITGA6</text>
<text x="226.5" y="84.9">CD86</text>
<text x="255.6" y="87.8">ICAM3</text>
<text x="220.8" y="95.0">CD276</text>
<text x="280.2" y="88.7">CD40</text>
<text x="286.4" y="99.1">ITGB2</text>
<text x="297.5" y="92.1">CXCL2</text>
<text x="312.5" y="92.3">TRAF3</text>
<text x="332.2" y="93.7">CXCL1</text>
<text x="311.0" y="101.0">TNFAIP3</text>
<text x="329.0" y="100.8">NFKBIA</text>
<text x="302.0" y="109.2">MICA</text>
<text x="286.5" y="111.9">ICAM1</text>
<text x="329.0" y="110.9">TNFSF10</text>
<text x="349.5" y="108.1">NFKB1</text>
<text x="343.7" y="115.8">TNFRSF10B</text>
<text x="364.0" y="113.5">TRAF2</text>
<text x="376.3" y="116.8">IL10</text>
<text x="385.3" y="122.8">IL18R1</text>
<text x="360.0" y="124.6">IFNAR1</text>
<text x="290.5" y="127.2">ULBP2</text>
<text x="315.1" y="124.3">MICB</text>
<text x="273.6" y="117.7">HLA-A</text>
<text x="265.5" y="126.2">HLA-G</text>
<text x="257.3" y="134.4">HLA-B</text>
<text x="272.0" y="137.3">HLA-E</text>
<text x="283.5" y="139.3">FYN</text>
<text x="225.9" y="143.0">HLA-DMA</text>
<text x="216.8" y="152.4">HLA-DRA</text>
<text x="242.2" y="152.9">HLA-DPA1</text>
<text x="226.2" y="162.4">HLA-DPB1</text>
<text x="238.5" y="170.5">HLA-DMB</text>
<text x="255.6" y="176.1">CD74</text>
<text x="287.4" y="175.3">CTSL</text>
<text x="289.0" y="150.2">KLRC2</text>
<text x="345.8" y="138.9">CSF2</text>
<text x="352.8" y="151.4">PIK3CD</text>
<text x="313.6" y="161.2">NFATC2</text>
<text x="298.8" y="166.6">CREB1</text>
<text x="316.0" y="179.2">ITCH</text>
<text x="396.7" y="111.9">BCL2L1</text>
<text x="406.6" y="121.7">CSF1</text>
<text x="425.4" y="109.7">TNFSF4</text>
<text x="426.2" y="123.8">TNFRSF1A</text>
<text x="396.7" y="131.5">CASP3</text>
<text x="407.4" y="138.9">IL6</text>
<text x="381.2" y="137.6">IFNGR1</text>
<text x="406.5" y="149.7">ATF2</text>
<text x="426.9" y="154.9">MAP3K5</text>
<text x="412.2" y="160.6">MAPK14</text>
<text x="405.6" y="171.6">VEGFC</text>
<text x="420.4" y="173.7">MAPK8</text>
<text x="429.4" y="180.3">FOS</text>
<text x="399.1" y="188.0">CREB5</text>
<text x="369.6" y="194.0">CASP8</text>
<text x="469.0" y="109.7">IL15RA</text>
<text x="493.0" y="106.4">IL13RA2</text>
<text x="482.4" y="112.7">IL5R</text>
<text x="497.1" y="115.3">IL13RA1</text>
<text x="473.4" y="121.2">IL7</text>
<text x="489.7" y="121.8">IL11</text>
<text x="448.0" y="133.1">PDGFRB</text>
<text x="460.3" y="142.1">JAK1</text>
<text x="448.0" y="148.4">STAT5</text>
<text x="479.1" y="148.3">EP300</text>
<text x="486.5" y="155.7">CDKN1A</text>
<text x="490.2" y="164.7">CCND3</text>
<text x="442.3" y="166.7">STAT3</text>
<text x="484.0" y="174.4">STAT6</text>
</g>
<circle cx="293.2" cy="49.4" r="2.9" fill="#7d2a2a" stroke="#5a1a1a" stroke-width="0.3"/>
<circle cx="367.8" cy="77.4" r="3.9" fill="#7a2e2e" stroke="#5a1a1a" stroke-width="0.3"/>
<circle cx="238.8" cy="91.6" r="2.1" fill="#7d2a2a" stroke="#5a1a1a" stroke-width="0.3"/>
<circle cx="461.6" cy="53.3" r="4.1" fill="#7a2c2c" stroke="#5a1a1a" stroke-width="0.3"/>
<circle cx="311.0" cy="128.8" r="2.1" fill="#7d2a2a" stroke="#5a1a1a" stroke-width="0.3"/>
<circle cx="272.5" cy="165.9" r="2.1" fill="#7d2a2a" stroke="#5a1a1a" stroke-width="0.3"/>
<circle cx="342.4" cy="179.2" r="3.3" fill="#7a2a2a" stroke="#5a1a1a" stroke-width="0.3"/>
<circle cx="463.6" cy="153.8" r="3.1" fill="#7f3636" stroke="#5a1a1a" stroke-width="0.3"/>
<g font-size="5.3" font-weight="bold" fill="#7e2e2e" stroke="#7e2e2e" stroke-width="0.16" text-anchor="middle">
<text x="292.3" y="58.0">NF-kappa B</text>
<text x="292.3" y="64.4">signaling</text>
<text x="292.3" y="70.6">pathway</text>
<text x="367.0" y="88.2">Cytokine-cytokine</text>
<text x="367.0" y="95.0">receptor</text>
<text x="367.0" y="101.3">interaction</text>
<text x="238.6" y="99.2">Cell adhesion</text>
<text x="238.6" y="105.4">molecules</text>
<text x="461.2" y="63.0">MAPK signaling</text>
<text x="460.8" y="69.8">pathway</text>
<text x="310.6" y="136.8">Natural killer cell</text>
<text x="310.3" y="144.0">mediated</text>
<text x="310.3" y="150.8">cytotoxicity</text>
<text x="272.2" y="173.7">Antigen</text>
<text x="272.2" y="180.4">processing and</text>
<text x="272.2" y="186.6">presentation</text>
<text x="342.3" y="188.4">TNF signaling</text>
<text x="342.3" y="195.0">pathway</text>
<text x="462.7" y="162.3">JAK-STAT</text>
<text x="462.7" y="169.0">signaling</text>
<text x="462.7" y="175.4">pathway</text>
</g>
<circle cx="304.7" cy="206.2" r="2.2" fill="#a9a9a9"/>
<text x="308.9" y="208.9" font-size="6.6" font-weight="bold" fill="#333" textLength="39" lengthAdjust="spacingAndGlyphs" stroke="#333" stroke-width="0.23">up-regulated</text>
<path d="M359.3,202.7 L361.9,207.5 L356.7,207.5 Z" fill="#a9a9a9"/>
<text x="365.2" y="208.6" font-size="6.6" font-weight="bold" fill="#333" textLength="47.8" lengthAdjust="spacingAndGlyphs" stroke="#333" stroke-width="0.23">down-regulated</text>
<circle cx="519.1" cy="40.9" r="2.7" fill="#d3d3d3" stroke="#777" stroke-width="0.45"/>
<circle cx="519.1" cy="48.2" r="3.9" fill="#d3d3d3" stroke="#777" stroke-width="0.45"/>
<circle cx="519.1" cy="59.3" r="6.1" fill="#d3d3d3" stroke="#777" stroke-width="0.45"/>
<circle cx="519.1" cy="73.7" r="7.8" fill="#d3d3d3" stroke="#777" stroke-width="0.45"/>
<circle cx="519.1" cy="92.3" r="10.0" fill="#d3d3d3" stroke="#777" stroke-width="0.45"/>
<text x="530" y="42.1" font-size="3.4" font-weight="bold" fill="#333" stroke="#333" stroke-width="0.12">0-5</text>
<text x="530" y="49.2" font-size="3.4" font-weight="bold" fill="#333" stroke="#333" stroke-width="0.12">5-10</text>
<text x="530" y="60.5" font-size="3.4" font-weight="bold" fill="#333" stroke="#333" stroke-width="0.12">10-20</text>
<text x="530" y="74.9" font-size="3.4" font-weight="bold" fill="#333" stroke="#333" stroke-width="0.12">20-30</text>
<text x="530" y="95.8" font-size="3.4" font-weight="bold" fill="#333" stroke="#333" stroke-width="0.12">30+</text>
<text transform="translate(541.8,77.5) rotate(90)" font-size="3.4" font-weight="bold" fill="#333" text-anchor="middle" stroke="#333" stroke-width="0.12">Number of mapped genes</text>
<circle cx="511.5" cy="110.4" r="3.3" fill="#d4d4d4" stroke="#777" stroke-width="0.4"/>
<text x="516.3" y="111.5" font-size="3.1" font-weight="bold" fill="#333" stroke="#333" stroke-width="0.11">pV&gt;0.1</text>
<circle cx="511.5" cy="123.6" r="3.3" fill="#f7b656" stroke="#777" stroke-width="0.4"/>
<text x="516.3" y="124.7" font-size="3.1" font-weight="bold" fill="#333" stroke="#333" stroke-width="0.11">pV 0.05-0.1</text>
<circle cx="511.5" cy="136.5" r="3.3" fill="#ff0a0a" stroke="#777" stroke-width="0.4"/>
<text x="516.3" y="137.6" font-size="3.1" font-weight="bold" fill="#333" stroke="#333" stroke-width="0.11">pV 0.005-0.05</text>
<circle cx="511.5" cy="149.8" r="3.3" fill="#a60a0a" stroke="#777" stroke-width="0.4"/>
<text x="516.3" y="150.9" font-size="3.1" font-weight="bold" fill="#333" stroke="#333" stroke-width="0.11">pV 0.0005-0.005</text>
<circle cx="511.5" cy="162.6" r="3.3" fill="#3e0808" stroke="#777" stroke-width="0.4"/>
<text x="516.3" y="163.7" font-size="3.1" font-weight="bold" fill="#333" stroke="#333" stroke-width="0.11">pV&lt;0.0005</text>
<text transform="translate(543.8,137) rotate(90)" font-size="3.2" font-weight="bold" fill="#333" text-anchor="middle" stroke="#333" stroke-width="0.11">Significance Colour Code</text>
<text x="6.3" y="107.2" font-size="10.2" font-weight="bold" fill="#111" stroke="#111" stroke-width="0.32">C</text>
<ellipse cx="81.03" cy="165.44" rx="50.17" ry="24.25" transform="rotate(45 81.03 165.44)" fill="#3a3aff" fill-opacity="0.4"/>
<ellipse cx="102.48" cy="152.8" rx="50.17" ry="24.25" transform="rotate(45 102.48 152.8)" fill="#ffff10" fill-opacity="0.4"/>
<ellipse cx="106.85" cy="153.06" rx="50.17" ry="24.25" transform="rotate(-45 106.85 153.06)" fill="#20e020" fill-opacity="0.4"/>
<ellipse cx="128.13" cy="165.76" rx="50.17" ry="24.25" transform="rotate(-45 128.13 165.76)" fill="#ff2020" fill-opacity="0.4"/>
<ellipse cx="81.03" cy="165.44" rx="50.17" ry="24.25" transform="rotate(45 81.03 165.44)" fill="none" stroke="#2a2a2a" stroke-width="0.7"/>
<ellipse cx="102.48" cy="152.8" rx="50.17" ry="24.25" transform="rotate(45 102.48 152.8)" fill="none" stroke="#2a2a2a" stroke-width="0.7"/>
<ellipse cx="106.85" cy="153.06" rx="50.17" ry="24.25" transform="rotate(-45 106.85 153.06)" fill="none" stroke="#2a2a2a" stroke-width="0.7"/>
<ellipse cx="128.13" cy="165.76" rx="50.17" ry="24.25" transform="rotate(-45 128.13 165.76)" fill="none" stroke="#2a2a2a" stroke-width="0.7"/>
<text x="83.9" y="123.0" font-size="3.8" font-weight="bold" fill="#222" text-anchor="middle" stroke="#222" stroke-width="0.13">56</text>
<text x="83.9" y="126.2" font-size="2.6" font-weight="bold" fill="#2a2a2a" text-anchor="middle">(20.7%)</text>
<text x="124.8" y="123.0" font-size="3.8" font-weight="bold" fill="#222" text-anchor="middle" stroke="#222" stroke-width="0.13">127</text>
<text x="124.8" y="126.2" font-size="2.6" font-weight="bold" fill="#2a2a2a" text-anchor="middle">(28.2%)</text>
<text x="59.2" y="152.4" font-size="3.8" font-weight="bold" fill="#222" text-anchor="middle" stroke="#222" stroke-width="0.13">74</text>
<text x="59.2" y="155.6" font-size="2.6" font-weight="bold" fill="#2a2a2a" text-anchor="middle">(27%)</text>
<text x="150.8" y="152.4" font-size="3.8" font-weight="bold" fill="#222" text-anchor="middle" stroke="#222" stroke-width="0.13">93</text>
<text x="150.8" y="155.6" font-size="2.6" font-weight="bold" fill="#2a2a2a" text-anchor="middle">(21.2%)</text>
<text x="72.7" y="138.2" font-size="3.8" font-weight="bold" fill="#222" text-anchor="middle" stroke="#222" stroke-width="0.13">6</text>
<text x="72.7" y="141.3" font-size="2.6" font-weight="bold" fill="#2a2a2a" text-anchor="middle">(2%)</text>
<text x="104.7" y="136.8" font-size="3.8" font-weight="bold" fill="#222" text-anchor="middle" stroke="#222" stroke-width="0.13">29</text>
<text x="104.7" y="140.0" font-size="2.6" font-weight="bold" fill="#2a2a2a" text-anchor="middle">(6.7%)</text>
<text x="136.5" y="138.2" font-size="3.8" font-weight="bold" fill="#222" text-anchor="middle" stroke="#222" stroke-width="0.13">9</text>
<text x="136.5" y="141.3" font-size="2.6" font-weight="bold" fill="#2a2a2a" text-anchor="middle">(2%)</text>
<text x="87.8" y="156.3" font-size="3.8" font-weight="bold" fill="#222" text-anchor="middle" stroke="#222" stroke-width="0.13">8</text>
<text x="87.8" y="159.5" font-size="2.6" font-weight="bold" fill="#2a2a2a" text-anchor="middle">(2%)</text>
<text x="122.2" y="156.3" font-size="3.8" font-weight="bold" fill="#222" text-anchor="middle" stroke="#222" stroke-width="0.13">9</text>
<text x="122.2" y="159.5" font-size="2.6" font-weight="bold" fill="#2a2a2a" text-anchor="middle">(2%)</text>
<text x="104.7" y="172.1" font-size="3.8" font-weight="bold" fill="#222" text-anchor="middle" stroke="#222" stroke-width="0.13">6</text>
<text x="104.7" y="175.2" font-size="2.6" font-weight="bold" fill="#2a2a2a" text-anchor="middle">(2%)</text>
<text x="78.0" y="175.3" font-size="3.8" font-weight="bold" fill="#222" text-anchor="middle" stroke="#222" stroke-width="0.13">31</text>
<text x="78.0" y="178.5" font-size="2.6" font-weight="bold" fill="#2a2a2a" text-anchor="middle">(7.1%)</text>
<text x="131.3" y="175.3" font-size="3.8" font-weight="bold" fill="#222" text-anchor="middle" stroke="#222" stroke-width="0.13">12</text>
<text x="131.3" y="178.5" font-size="2.6" font-weight="bold" fill="#2a2a2a" text-anchor="middle">(2.8%)</text>
<text x="94.3" y="185.6" font-size="3.8" font-weight="bold" fill="#222" text-anchor="middle" stroke="#222" stroke-width="0.13">9</text>
<text x="94.3" y="188.7" font-size="2.6" font-weight="bold" fill="#2a2a2a" text-anchor="middle">(2%)</text>
<text x="115.1" y="185.6" font-size="3.8" font-weight="bold" fill="#222" text-anchor="middle" stroke="#222" stroke-width="0.13">9</text>
<text x="115.1" y="188.7" font-size="2.6" font-weight="bold" fill="#2a2a2a" text-anchor="middle">(2%)</text>
<text x="104.7" y="195.9" font-size="3.8" font-weight="bold" fill="#222" text-anchor="middle" stroke="#222" stroke-width="0.13">10</text>
<text x="104.7" y="199.1" font-size="2.6" font-weight="bold" fill="#2a2a2a" text-anchor="middle">(2.3%)</text>
<text x="16.0" y="120.0" font-size="6.4" font-weight="bold" fill="#4a6bd2" text-anchor="start" textLength="44.1" lengthAdjust="spacingAndGlyphs" stroke="#4a6bd2" stroke-width="0.22">Low in sh-Kaiso</text>
<text x="51.9" y="108.9" font-size="6.4" font-weight="bold" fill="#f1b534" text-anchor="start" textLength="46.5" lengthAdjust="spacingAndGlyphs" stroke="#f1b534" stroke-width="0.22">High in sh-Kaiso</text>
<text x="120.3" y="108.9" font-size="6.4" font-weight="bold" fill="#35b56c" text-anchor="start" textLength="29.7" lengthAdjust="spacingAndGlyphs" stroke="#35b56c" stroke-width="0.22">High in AA</text>
<text x="149.1" y="119.8" font-size="6.4" font-weight="bold" fill="#e2282e" text-anchor="start" textLength="28.7" lengthAdjust="spacingAndGlyphs" stroke="#e2282e" stroke-width="0.22">Low in AA</text>
<rect x="170.7" y="125.3" width="28.1" height="80.6" fill="none" stroke="#43b676" stroke-width="0.8"/>
<text x="173.9" y="133.8" font-size="6.4" font-weight="bold" fill="#111" text-anchor="start" textLength="17.7" lengthAdjust="spacingAndGlyphs" stroke="#111" stroke-width="0.22">REPS1</text>
<text x="173.9" y="142.4" font-size="6.4" font-weight="bold" fill="#e0242a" text-anchor="start" textLength="18" lengthAdjust="spacingAndGlyphs" stroke="#e0242a" stroke-width="0.22">TGFB1</text>
<text x="173.9" y="151.1" font-size="6.4" font-weight="bold" fill="#111" text-anchor="start" textLength="18.6" lengthAdjust="spacingAndGlyphs" stroke="#111" stroke-width="0.22">ICAM1</text>
<text x="173.9" y="159.7" font-size="6.4" font-weight="bold" fill="#111" text-anchor="start" textLength="21.1" lengthAdjust="spacingAndGlyphs" stroke="#111" stroke-width="0.22">MAPK8</text>
<text x="173.9" y="168.3" font-size="6.4" font-weight="bold" fill="#111" text-anchor="start" textLength="21.7" lengthAdjust="spacingAndGlyphs" stroke="#111" stroke-width="0.22">IFNGR1</text>
<text x="173.9" y="177.0" font-size="6.4" font-weight="bold" fill="#111" text-anchor="start" textLength="19.6" lengthAdjust="spacingAndGlyphs" stroke="#111" stroke-width="0.22">NFKB1</text>
<text x="173.9" y="185.6" font-size="6.4" font-weight="bold" fill="#e0242a" text-anchor="start" textLength="15.3" lengthAdjust="spacingAndGlyphs" stroke="#e0242a" stroke-width="0.22">CD47</text>
<text x="173.9" y="194.2" font-size="6.4" font-weight="bold" fill="#111" text-anchor="start" textLength="20.2" lengthAdjust="spacingAndGlyphs" stroke="#111" stroke-width="0.22">ANXA1</text>
<text x="173.9" y="202.8" font-size="6.4" font-weight="bold" fill="#111" text-anchor="start" textLength="11.8" lengthAdjust="spacingAndGlyphs" stroke="#111" stroke-width="0.22">CD9</text>
<text x="72.1" y="216.3" font-size="6.3" font-weight="bold" fill="#222" text-anchor="start" textLength="50" lengthAdjust="spacingAndGlyphs" stroke="#222" stroke-width="0.22">Differential gene</text>
<text x="67.9" y="224.6" font-size="6.3" font-weight="bold" fill="#222" text-anchor="start" textLength="58.3" lengthAdjust="spacingAndGlyphs" stroke="#222" stroke-width="0.22">expression (p&lt;0.05)</text>
<text x="145.2" y="213.0" font-size="6.3" font-weight="bold" fill="#222" text-anchor="start" textLength="68.7" lengthAdjust="spacingAndGlyphs" stroke="#222" stroke-width="0.22">Common genes among</text>
<text x="145.2" y="221.0" font-size="6.3" font-weight="bold" fill="#222" text-anchor="start" textLength="73.6" lengthAdjust="spacingAndGlyphs" stroke="#222" stroke-width="0.22">High in AA exosomes and</text>
<text x="145.2" y="229.5" font-size="6.3" font-weight="bold" fill="#222" text-anchor="start" textLength="56.4" lengthAdjust="spacingAndGlyphs" stroke="#222" stroke-width="0.22">low in sh-Kaiso cells</text>
<text x="6.5" y="250.8" font-size="10.4" font-weight="bold" fill="#111" stroke="#111" stroke-width="0.32">D</text>
<line x1="41.1" y1="280.0" x2="41.1" y2="359.3" stroke="#111" stroke-width="1.0"/>
<line x1="40.6" y1="359.3" x2="92" y2="359.3" stroke="#111" stroke-width="1.0"/>
<line x1="38.800000000000004" y1="359.3" x2="41.1" y2="359.3" stroke="#111" stroke-width="0.7"/>
<text x="38.1" y="361.2" font-size="5.2" font-weight="bold" fill="#222" text-anchor="end" stroke="#222" stroke-width="0.18">0</text>
<line x1="38.800000000000004" y1="343.5" x2="41.1" y2="343.5" stroke="#111" stroke-width="0.7"/>
<text x="38.1" y="345.4" font-size="5.2" font-weight="bold" fill="#222" text-anchor="end" stroke="#222" stroke-width="0.18">500</text>
<line x1="38.800000000000004" y1="327.8" x2="41.1" y2="327.8" stroke="#111" stroke-width="0.7"/>
<text x="38.1" y="329.6" font-size="5.2" font-weight="bold" fill="#222" text-anchor="end" stroke="#222" stroke-width="0.18">1000</text>
<line x1="38.800000000000004" y1="312.0" x2="41.1" y2="312.0" stroke="#111" stroke-width="0.7"/>
<text x="38.1" y="313.9" font-size="5.2" font-weight="bold" fill="#222" text-anchor="end" stroke="#222" stroke-width="0.18">1500</text>
<line x1="38.800000000000004" y1="296.3" x2="41.1" y2="296.3" stroke="#111" stroke-width="0.7"/>
<text x="38.1" y="298.1" font-size="5.2" font-weight="bold" fill="#222" text-anchor="end" stroke="#222" stroke-width="0.18">2000</text>
<line x1="38.800000000000004" y1="280.5" x2="41.1" y2="280.5" stroke="#111" stroke-width="0.7"/>
<text x="38.1" y="282.4" font-size="5.2" font-weight="bold" fill="#222" text-anchor="end" stroke="#222" stroke-width="0.18">2500</text>
<line x1="53.6" y1="359.3" x2="53.6" y2="361.1" stroke="#111" stroke-width="0.7"/>
<line x1="80.6" y1="359.3" x2="80.6" y2="361.1" stroke="#111" stroke-width="0.7"/>
<rect x="43.3" y="296.9" width="21.1" height="62.4" fill="#0e1b8e"/>
<rect x="70.2" y="334.5" width="21.1" height="24.8" fill="#ff2d0a"/>
<path d="M53.7,296.9 V283.4 M48.2,283.4 H59.2" stroke="#4654c8" stroke-width="0.8" fill="none"/>
<path d="M80.7,334.5 V328.7 M75.3,328.7 H86.2" stroke="#ff2d0a" stroke-width="0.8" fill="none"/>
<line x1="41" y1="266.6" x2="87.3" y2="266.6" stroke="#111" stroke-width="1.2"/>
<text x="51.9" y="261.8" font-size="6.0" font-weight="bold" fill="#222" textLength="27.3" lengthAdjust="spacingAndGlyphs" stroke="#222" stroke-width="0.21">P&lt;0.0062</text>
<text transform="translate(24.0,318.6) rotate(-90)" font-size="6.4" font-weight="bold" fill="#222" text-anchor="middle" stroke="#222" stroke-width="0.22">CD47</text>
<text x="44" y="369.2" font-size="6.4" font-weight="bold" fill="#222" textLength="19.6" lengthAdjust="spacingAndGlyphs" stroke="#222" stroke-width="0.22">sh-Scr</text>
<text x="67.3" y="369.2" font-size="6.4" font-weight="bold" fill="#222" textLength="26.9" lengthAdjust="spacingAndGlyphs" stroke="#222" stroke-width="0.22">sh-Kaiso</text>
<line x1="133.8" y1="278.8" x2="133.8" y2="359.2" stroke="#111" stroke-width="1.0"/>
<line x1="133.3" y1="359.2" x2="186" y2="359.2" stroke="#111" stroke-width="1.0"/>
<line x1="131.60000000000002" y1="359.2" x2="133.8" y2="359.2" stroke="#111" stroke-width="0.7"/>
<text x="131.20000000000002" y="361.1" font-size="5.2" font-weight="bold" fill="#222" text-anchor="end" stroke="#222" stroke-width="0.18">0</text>
<line x1="131.60000000000002" y1="350.3" x2="133.8" y2="350.3" stroke="#111" stroke-width="0.7"/>
<text x="131.20000000000002" y="352.2" font-size="5.2" font-weight="bold" fill="#222" text-anchor="end" stroke="#222" stroke-width="0.18">500</text>
<line x1="131.60000000000002" y1="341.4" x2="133.8" y2="341.4" stroke="#111" stroke-width="0.7"/>
<text x="131.20000000000002" y="343.3" font-size="5.2" font-weight="bold" fill="#222" text-anchor="end" stroke="#222" stroke-width="0.18">1000</text>
<line x1="131.60000000000002" y1="332.5" x2="133.8" y2="332.5" stroke="#111" stroke-width="0.7"/>
<text x="131.20000000000002" y="334.4" font-size="5.2" font-weight="bold" fill="#222" text-anchor="end" stroke="#222" stroke-width="0.18">1500</text>
<line x1="131.60000000000002" y1="323.6" x2="133.8" y2="323.6" stroke="#111" stroke-width="0.7"/>
<text x="131.20000000000002" y="325.5" font-size="5.2" font-weight="bold" fill="#222" text-anchor="end" stroke="#222" stroke-width="0.18">2000</text>
<line x1="131.60000000000002" y1="314.8" x2="133.8" y2="314.8" stroke="#111" stroke-width="0.7"/>
<text x="131.20000000000002" y="316.6" font-size="5.2" font-weight="bold" fill="#222" text-anchor="end" stroke="#222" stroke-width="0.18">2500</text>
<line x1="131.60000000000002" y1="305.9" x2="133.8" y2="305.9" stroke="#111" stroke-width="0.7"/>
<text x="131.20000000000002" y="307.7" font-size="5.2" font-weight="bold" fill="#222" text-anchor="end" stroke="#222" stroke-width="0.18">3000</text>
<line x1="131.60000000000002" y1="297.0" x2="133.8" y2="297.0" stroke="#111" stroke-width="0.7"/>
<text x="131.20000000000002" y="298.8" font-size="5.2" font-weight="bold" fill="#222" text-anchor="end" stroke="#222" stroke-width="0.18">3500</text>
<line x1="131.60000000000002" y1="288.1" x2="133.8" y2="288.1" stroke="#111" stroke-width="0.7"/>
<text x="131.20000000000002" y="289.9" font-size="5.2" font-weight="bold" fill="#222" text-anchor="end" stroke="#222" stroke-width="0.18">4000</text>
<line x1="131.60000000000002" y1="279.2" x2="133.8" y2="279.2" stroke="#111" stroke-width="0.7"/>
<text x="131.20000000000002" y="281.1" font-size="5.2" font-weight="bold" fill="#222" text-anchor="end" stroke="#222" stroke-width="0.18">4500</text>
<line x1="147.6" y1="359.2" x2="147.6" y2="361.0" stroke="#111" stroke-width="0.7"/>
<line x1="174.7" y1="359.2" x2="174.7" y2="361.0" stroke="#111" stroke-width="0.7"/>
<rect x="137.4" y="347.7" width="20.4" height="11.5" fill="#0e1b8e"/>
<rect x="164.2" y="298.7" width="21" height="60.5" fill="#ff2d0a"/>
<path d="M147.6,347.7 V345.9 M142.3,345.9 H152.8" stroke="#4654c8" stroke-width="0.8" fill="none"/>
<path d="M174.7,298.7 V284.2 M169.4,284.2 H180" stroke="#ff2d0a" stroke-width="0.8" fill="none"/>
<line x1="137" y1="266.6" x2="178.1" y2="266.6" stroke="#111" stroke-width="1.2"/>
<text x="141.2" y="262.6" font-size="6.0" font-weight="bold" fill="#222" textLength="27.1" lengthAdjust="spacingAndGlyphs" stroke="#222" stroke-width="0.21">P&lt;0.0021</text>
<text transform="translate(118.3,318.2) rotate(-90)" font-size="6.3" font-weight="bold" fill="#222" text-anchor="middle" stroke="#222" stroke-width="0.22">THBS1</text>
<text x="137.7" y="368.2" font-size="6.4" font-weight="bold" fill="#222" textLength="19.6" lengthAdjust="spacingAndGlyphs" stroke="#222" stroke-width="0.22">sh-Scr</text>
<text x="160.9" y="368.2" font-size="6.4" font-weight="bold" fill="#222" textLength="26.9" lengthAdjust="spacingAndGlyphs" stroke="#222" stroke-width="0.22">sh-Kaiso</text>
<text x="221.6" y="255.6" font-size="10.2" font-weight="bold" fill="#111" stroke="#111" stroke-width="0.32">E</text>
<line x1="251.9" y1="259.7" x2="251.9" y2="344.2" stroke="#111" stroke-width="1.0"/>
<line x1="251.9" y1="260.2" x2="378.6" y2="260.2" stroke="#111" stroke-width="1.2"/>
<line x1="251.9" y1="343.8" x2="378.2" y2="343.8" stroke="#111" stroke-width="1.0"/>
<line x1="249.9" y1="260.2" x2="251.9" y2="260.2" stroke="#111" stroke-width="0.7"/>
<text x="249.3" y="261.9" font-size="5.0" font-weight="bold" fill="#222" text-anchor="end" stroke="#222" stroke-width="0.18">0</text>
<line x1="249.9" y1="281.3" x2="251.9" y2="281.3" stroke="#111" stroke-width="0.7"/>
<text x="249.3" y="283.0" font-size="5.0" font-weight="bold" fill="#222" text-anchor="end" stroke="#222" stroke-width="0.18">-2</text>
<line x1="249.9" y1="302.4" x2="251.9" y2="302.4" stroke="#111" stroke-width="0.7"/>
<text x="249.3" y="304.1" font-size="5.0" font-weight="bold" fill="#222" text-anchor="end" stroke="#222" stroke-width="0.18">-4</text>
<line x1="249.9" y1="323.5" x2="251.9" y2="323.5" stroke="#111" stroke-width="0.7"/>
<text x="249.3" y="325.2" font-size="5.0" font-weight="bold" fill="#222" text-anchor="end" stroke="#222" stroke-width="0.18">-6</text>
<line x1="249.9" y1="344.6" x2="251.9" y2="344.6" stroke="#111" stroke-width="0.7"/>
<text x="249.3" y="346.3" font-size="5.0" font-weight="bold" fill="#222" text-anchor="end" stroke="#222" stroke-width="0.18">-8</text>
<rect x="254.30" y="260.2" width="3.5" height="59.5" fill="#0a0a0a"/>
<path d="M256.05,319.7 V321.5 M255.05,321.5 H257.05" stroke="#0a0a0a" stroke-width="0.5" fill="none"/>
<line x1="256.05" y1="343.8" x2="256.05" y2="345.6" stroke="#111" stroke-width="0.6"/>
<text transform="translate(257.95,346.4) rotate(-90)" font-size="6.3" font-weight="bold" fill="#111" text-anchor="end" stroke="#111" stroke-width="0.22">LCP1</text>
<rect x="259.96" y="260.2" width="3.5" height="56.2" fill="#0a0a0a"/>
<path d="M261.71,316.4 V320.1 M260.71,320.1 H262.71" stroke="#0a0a0a" stroke-width="0.5" fill="none"/>
<line x1="261.71" y1="343.8" x2="261.71" y2="345.6" stroke="#111" stroke-width="0.6"/>
<text transform="translate(263.61,346.4) rotate(-90)" font-size="6.3" font-weight="bold" fill="#111" text-anchor="end" stroke="#111" stroke-width="0.22">LCN2</text>
<rect x="265.62" y="260.2" width="3.5" height="52.4" fill="#0a0a0a"/>
<path d="M267.37,312.6 V314.7 M266.37,314.7 H268.37" stroke="#0a0a0a" stroke-width="0.5" fill="none"/>
<line x1="267.37" y1="343.8" x2="267.37" y2="345.6" stroke="#111" stroke-width="0.6"/>
<text transform="translate(269.27,346.4) rotate(-90)" font-size="6.3" font-weight="bold" fill="#111" text-anchor="end" stroke="#111" stroke-width="0.22">HLA-DPB1</text>
<rect x="271.28" y="260.2" width="3.5" height="52.4" fill="#0a0a0a"/>
<path d="M273.03,312.6 V320.1 M272.03,320.1 H274.03" stroke="#0a0a0a" stroke-width="0.5" fill="none"/>
<line x1="273.03" y1="343.8" x2="273.03" y2="345.6" stroke="#111" stroke-width="0.6"/>
<text transform="translate(274.93,346.4) rotate(-90)" font-size="6.3" font-weight="bold" fill="#111" text-anchor="end" stroke="#111" stroke-width="0.22">MAGEC2</text>
<rect x="276.94" y="260.2" width="3.5" height="49.7" fill="#0a0a0a"/>
<path d="M278.69,309.9 V311.3 M277.69,311.3 H279.69" stroke="#0a0a0a" stroke-width="0.5" fill="none"/>
<line x1="278.69" y1="343.8" x2="278.69" y2="345.6" stroke="#111" stroke-width="0.6"/>
<text transform="translate(280.59,346.4) rotate(-90)" font-size="6.3" font-weight="bold" fill="#111" text-anchor="end" stroke="#111" stroke-width="0.22">SAA1</text>
<rect x="282.60" y="260.2" width="3.5" height="48.6" fill="#0a0a0a"/>
<path d="M284.35,308.8 V311.3 M283.35,311.3 H285.35" stroke="#0a0a0a" stroke-width="0.5" fill="none"/>
<line x1="284.35" y1="343.8" x2="284.35" y2="345.6" stroke="#111" stroke-width="0.6"/>
<text transform="translate(286.25,346.4) rotate(-90)" font-size="6.3" font-weight="bold" fill="#111" text-anchor="end" stroke="#111" stroke-width="0.22">HLA-DRB4</text>
<rect x="288.26" y="260.2" width="3.5" height="44.9" fill="#0a0a0a"/>
<path d="M290.01,305.1 V306.5 M289.01,306.5 H291.01" stroke="#0a0a0a" stroke-width="0.5" fill="none"/>
<line x1="290.01" y1="343.8" x2="290.01" y2="345.6" stroke="#111" stroke-width="0.6"/>
<text transform="translate(291.91,346.4) rotate(-90)" font-size="6.3" font-weight="bold" fill="#111" text-anchor="end" stroke="#111" stroke-width="0.22">HLA-DRB3</text>
<rect x="293.92" y="260.2" width="3.5" height="44.2" fill="#0a0a0a"/>
<path d="M295.67,304.4 V305.5 M294.67,305.5 H296.67" stroke="#0a0a0a" stroke-width="0.5" fill="none"/>
<line x1="295.67" y1="343.8" x2="295.67" y2="345.6" stroke="#111" stroke-width="0.6"/>
<text transform="translate(297.57,346.4) rotate(-90)" font-size="6.3" font-weight="bold" fill="#111" text-anchor="end" stroke="#111" stroke-width="0.22">HLA-DPA1</text>
<rect x="299.58" y="260.2" width="3.5" height="42.2" fill="#0a0a0a"/>
<path d="M301.33,302.4 V303.4 M300.33,303.4 H302.33" stroke="#0a0a0a" stroke-width="0.5" fill="none"/>
<line x1="301.33" y1="343.8" x2="301.33" y2="345.6" stroke="#111" stroke-width="0.6"/>
<text transform="translate(303.23,346.4) rotate(-90)" font-size="6.3" font-weight="bold" fill="#111" text-anchor="end" stroke="#111" stroke-width="0.22">HLA-DRA</text>
<rect x="305.24" y="260.2" width="3.5" height="40.8" fill="#0a0a0a"/>
<path d="M306.99,301.0 V301.7 M305.99,301.7 H307.99" stroke="#0a0a0a" stroke-width="0.5" fill="none"/>
<line x1="306.99" y1="343.8" x2="306.99" y2="345.6" stroke="#111" stroke-width="0.6"/>
<text transform="translate(308.89,346.4) rotate(-90)" font-size="6.3" font-weight="bold" fill="#111" text-anchor="end" stroke="#111" stroke-width="0.22">IFI27</text>
<rect x="310.90" y="260.2" width="3.5" height="33.1" fill="#0a0a0a"/>
<path d="M312.65,293.3 V294.2 M311.65,294.2 H313.65" stroke="#0a0a0a" stroke-width="0.5" fill="none"/>
<line x1="312.65" y1="343.8" x2="312.65" y2="345.6" stroke="#111" stroke-width="0.6"/>
<text transform="translate(314.55,346.4) rotate(-90)" font-size="6.3" font-weight="bold" fill="#111" text-anchor="end" stroke="#111" stroke-width="0.22">IL1A</text>
<rect x="316.56" y="260.2" width="3.5" height="32.7" fill="#ff2b08"/>
<path d="M318.31,292.9 V293.5 M317.31,293.5 H319.31" stroke="#ff2b08" stroke-width="0.5" fill="none"/>
<line x1="318.31" y1="343.8" x2="318.31" y2="345.6" stroke="#111" stroke-width="0.6"/>
<text transform="translate(320.21,346.4) rotate(-90)" font-size="6.3" font-weight="bold" fill="#111" text-anchor="end" stroke="#111" stroke-width="0.22">THBS1</text>
<rect x="322.22" y="260.2" width="3.5" height="31.4" fill="#0a0a0a"/>
<path d="M323.97,291.6 V294.0 M322.97,294.0 H324.97" stroke="#0a0a0a" stroke-width="0.5" fill="none"/>
<line x1="323.97" y1="343.8" x2="323.97" y2="345.6" stroke="#111" stroke-width="0.6"/>
<text transform="translate(325.87,346.4) rotate(-90)" font-size="6.3" font-weight="bold" fill="#111" text-anchor="end" stroke="#111" stroke-width="0.22">IL24</text>
<rect x="327.88" y="260.2" width="3.5" height="30.2" fill="#0a0a0a"/>
<path d="M329.63,290.4 V292.7 M328.63,292.7 H330.63" stroke="#0a0a0a" stroke-width="0.5" fill="none"/>
<line x1="329.63" y1="343.8" x2="329.63" y2="345.6" stroke="#111" stroke-width="0.6"/>
<text transform="translate(331.53,346.4) rotate(-90)" font-size="6.3" font-weight="bold" fill="#111" text-anchor="end" stroke="#111" stroke-width="0.22">TNFSF10</text>
<rect x="333.54" y="260.2" width="3.5" height="29.1" fill="#0a0a0a"/>
<path d="M335.29,289.3 V292.0 M334.29,292.0 H336.29" stroke="#0a0a0a" stroke-width="0.5" fill="none"/>
<line x1="335.29" y1="343.8" x2="335.29" y2="345.6" stroke="#111" stroke-width="0.6"/>
<text transform="translate(337.19,346.4) rotate(-90)" font-size="6.3" font-weight="bold" fill="#111" text-anchor="end" stroke="#111" stroke-width="0.22">CD22</text>
<rect x="339.20" y="260.2" width="3.5" height="27.6" fill="#0a0a0a"/>
<path d="M340.95,287.8 V289.9 M339.95,289.9 H341.95" stroke="#0a0a0a" stroke-width="0.5" fill="none"/>
<line x1="340.95" y1="343.8" x2="340.95" y2="345.6" stroke="#111" stroke-width="0.6"/>
<text transform="translate(342.85,346.4) rotate(-90)" font-size="6.3" font-weight="bold" fill="#111" text-anchor="end" stroke="#111" stroke-width="0.22">LRP1</text>
<rect x="344.86" y="260.2" width="3.5" height="26.4" fill="#0a0a0a"/>
<path d="M346.61,286.6 V288.4 M345.61,288.4 H347.61" stroke="#0a0a0a" stroke-width="0.5" fill="none"/>
<line x1="346.61" y1="343.8" x2="346.61" y2="345.6" stroke="#111" stroke-width="0.6"/>
<text transform="translate(348.51,346.4) rotate(-90)" font-size="6.3" font-weight="bold" fill="#111" text-anchor="end" stroke="#111" stroke-width="0.22">IL6</text>
<rect x="350.52" y="260.2" width="3.5" height="22.5" fill="#0a0a0a"/>
<path d="M352.27,282.7 V286.6 M351.27,286.6 H353.27" stroke="#0a0a0a" stroke-width="0.5" fill="none"/>
<line x1="352.27" y1="343.8" x2="352.27" y2="345.6" stroke="#111" stroke-width="0.6"/>
<text transform="translate(354.17,346.4) rotate(-90)" font-size="6.3" font-weight="bold" fill="#111" text-anchor="end" stroke="#111" stroke-width="0.22">DMBT1</text>
<rect x="356.18" y="260.2" width="3.5" height="22.0" fill="#0a0a0a"/>
<path d="M357.93,282.2 V282.9 M356.93,282.9 H358.93" stroke="#0a0a0a" stroke-width="0.5" fill="none"/>
<line x1="357.93" y1="343.8" x2="357.93" y2="345.6" stroke="#111" stroke-width="0.6"/>
<text transform="translate(359.83,346.4) rotate(-90)" font-size="6.3" font-weight="bold" fill="#111" text-anchor="end" stroke="#111" stroke-width="0.22">PLAU</text>
<rect x="361.84" y="260.2" width="3.5" height="21.6" fill="#0a0a0a"/>
<path d="M363.59,281.8 V282.9 M362.59,282.9 H364.59" stroke="#0a0a0a" stroke-width="0.5" fill="none"/>
<line x1="363.59" y1="343.8" x2="363.59" y2="345.6" stroke="#111" stroke-width="0.6"/>
<text transform="translate(365.49,346.4) rotate(-90)" font-size="6.3" font-weight="bold" fill="#111" text-anchor="end" stroke="#111" stroke-width="0.22">HLA-DMB</text>
<rect x="367.50" y="260.2" width="3.5" height="20.7" fill="#0a0a0a"/>
<path d="M369.25,280.9 V283.6 M368.25,283.6 H370.25" stroke="#0a0a0a" stroke-width="0.5" fill="none"/>
<line x1="369.25" y1="343.8" x2="369.25" y2="345.6" stroke="#111" stroke-width="0.6"/>
<text transform="translate(371.15,346.4) rotate(-90)" font-size="6.3" font-weight="bold" fill="#111" text-anchor="end" stroke="#111" stroke-width="0.22">PDGFRB</text>
<rect x="373.16" y="260.2" width="3.5" height="20.7" fill="#0a0a0a"/>
<path d="M374.91,280.9 V286.4 M373.91,286.4 H375.91" stroke="#0a0a0a" stroke-width="0.5" fill="none"/>
<line x1="374.91" y1="343.8" x2="374.91" y2="345.6" stroke="#111" stroke-width="0.6"/>
<text transform="translate(376.81,346.4) rotate(-90)" font-size="6.3" font-weight="bold" fill="#111" text-anchor="end" stroke="#111" stroke-width="0.22">CFP</text>
<text transform="translate(243.2,297.6) rotate(-90)" font-size="6.1" font-weight="bold" fill="#222" text-anchor="middle" textLength="77.5" lengthAdjust="spacingAndGlyphs" stroke="#222" stroke-width="0.21">Fold change relative to sh-Scr</text>
</svg></body></html>
